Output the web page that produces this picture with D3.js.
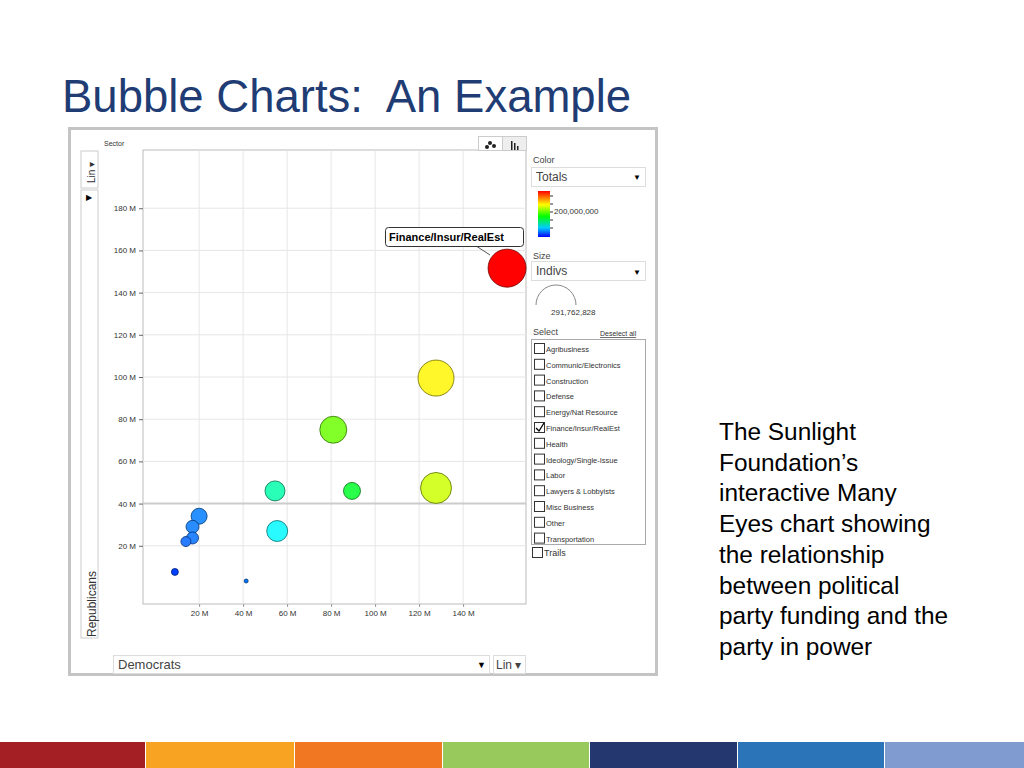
<!DOCTYPE html>
<html><head><meta charset="utf-8">
<script src="https://cdn.jsdelivr.net/npm/d3@7"></script>
<style>body{margin:0;background:#fff;font-family:Arial,"Liberation Sans",sans-serif}</style>
</head><body>
<svg id="s" width="1024" height="768"></svg>
<script>
// ---- data ----
const sectorNames = ["Finance/Insur/RealEst","Misc Business","Health","Lawyers & Lobbyists","Communic/Electronics","Energy/Nat Resource","Construction","Ideology/Single-Issue","Transportation","Agribusiness","Defense","Other","Labor"];
const democrats   = [160, 127.7, 81, 127.7, 89.5, 54.5, 55.5, 20, 17, 17, 14, 9, 41.4];
const republicans = [151.6, 99.5, 75, 47.4, 46, 46, 27, 34, 29, 23.7, 22, 7.6, 3.3];
const indivs      = [361, 324, 182, 240, 72, 100, 110, 64, 42, 36, 25, 12, 4];
const xTicks = [20,40,60,80,100,120,140];
const yTicks = [20,40,60,80,100,120,140,160,180];
const selectList = ["Agribusiness","Communic/Electronics","Construction","Defense","Energy/Nat Resource","Finance/Insur/RealEst","Health","Ideology/Single-Issue","Labor","Lawyers & Lobbyists","Misc Business","Other","Transportation"];
const bodyLines = ["The Sunlight","Foundation\u2019s","interactive Many","Eyes chart showing","the relationship","between political","party funding and the","party in power"];
const barColors = ["#a31f24","#f9a323","#f17723","#97c95c","#24376f","#2b74b8","#7f9bd0"];

const svg = d3.select("#s");
svg.append("text").attr("x",62).attr("y",112).attr("font-size",45.5).attr("fill","#1f3c74").text("Bubble Charts:\u00a0 An Example");
svg.append("rect").attr("x",69.5).attr("y",128.5).attr("width",587).attr("height",546).attr("fill","#fff").attr("stroke","#c4c4c4").attr("stroke-width",3);

const x = d3.scaleLinear().domain([-5.5,168.6]).range([143,526]);
const y = d3.scaleLinear().domain([-7.6,207.6]).range([604,150]);
const g = svg.append("g");
g.append("rect").attr("x",143).attr("y",150).attr("width",383).attr("height",454).attr("fill","#fff").attr("stroke","#bbb");
xTicks.forEach(t=>g.append("line").attr("x1",x(t)).attr("x2",x(t)).attr("y1",150).attr("y2",604).attr("stroke","#e6e6e6"));
yTicks.forEach(t=>g.append("line").attr("x1",143).attr("x2",526).attr("y1",y(t)).attr("y2",y(t)).attr("stroke",t===40?"#ccc":"#e6e6e6").attr("stroke-width",t===40?2:1));
g.append("g").attr("transform","translate(143,0)").call(d3.axisLeft(y).tickValues(yTicks).tickFormat(d=>d+" M").tickSize(4))
 .call(a=>{a.select(".domain").remove();a.selectAll("text").attr("font-size",8).attr("fill","#333");a.selectAll("line").attr("stroke","#666");});
g.append("g").attr("transform","translate(0,604)").call(d3.axisBottom(x).tickValues(xTicks).tickFormat(d=>d+" M").tickSize(3))
 .call(a=>{a.select(".domain").remove();a.selectAll("text").attr("font-size",8).attr("fill","#333");a.selectAll("line").attr("stroke","#999");});

const hue = d3.scaleLinear().domain([20,45,60,82,100,135,156,175,227,312]).range([225,212,210,182,160,130,95,72,58,0]).clamp(true);
const rs = d3.scaleSqrt().domain([0,361]).range([0,19]);
const idx = d3.range(sectorNames.length);
g.selectAll("circle.b").data(idx).join("circle")
 .attr("cx",i=>x(democrats[i])).attr("cy",i=>y(republicans[i])).attr("r",i=>rs(indivs[i]))
 .attr("fill",i=>d3.hsl(hue(democrats[i]+republicans[i]),1,i===0?0.5:(i===11||i===12?0.5:0.58)))
 .attr("stroke",i=>d3.hsl(hue(democrats[i]+republicans[i]),1,0.22)).attr("stroke-width",0.8);
svg.append("line").attr("x1",467).attr("y1",240).attr("x2",490).attr("y2",255).attr("stroke","#555");
svg.append("rect").attr("x",385.5).attr("y",227.5).attr("width",138).attr("height",19).attr("rx",3).attr("fill","#fff").attr("stroke","#333");
svg.append("text").attr("x",389).attr("y",241).attr("font-size",11).attr("font-weight","bold").text(sectorNames[0]);

svg.append("text").attr("x",104).attr("y",146).attr("font-size",7).attr("fill","#333").text("Sector");
svg.append("rect").attr("x",81).attr("y",151).attr("width",17).attr("height",37).attr("fill","#fff").attr("stroke","#ccc");
svg.append("text").attr("transform","translate(95,183) rotate(-90)").attr("font-size",10).attr("fill","#333").text("Lin \u25BE");
svg.append("rect").attr("x",81).attr("y",190).attr("width",17).attr("height",448).attr("fill","#fff").attr("stroke","#ccc");
svg.append("text").attr("x",86).attr("y",200).attr("font-size",8).text("\u25B6");
svg.append("text").attr("transform","translate(96,637) rotate(-90)").attr("font-size",12).attr("fill","#333").text("Republicans");
svg.append("rect").attr("x",478.5).attr("y",136.5).attr("width",24).attr("height",14).attr("fill","#fff").attr("stroke","#ccc");
svg.append("rect").attr("x",502.5).attr("y",136.5).attr("width",24).attr("height",14).attr("fill","#eee").attr("stroke","#ccc");
[[487,147,2],[490,143,2],[494,146,2]].forEach(d=>svg.append("circle").attr("cx",d[0]).attr("cy",d[1]).attr("r",d[2]).attr("fill","#222"));
[[511,141,9],[514,143,7],[517,146,4]].forEach(d=>svg.append("rect").attr("x",d[0]).attr("y",d[1]).attr("width",1.5).attr("height",d[2]).attr("fill","#222"));
svg.append("rect").attr("x",113.5).attr("y",655.5).attr("width",376).attr("height",18).attr("fill","#fff").attr("stroke","#ddd");
svg.append("text").attr("x",118).attr("y",669).attr("font-size",13).attr("fill","#444").text("Democrats");
svg.append("text").attr("x",477).attr("y",668).attr("font-size",9).text("\u25BC");
svg.append("rect").attr("x",493.5).attr("y",655.5).attr("width",32).attr("height",18).attr("fill","#fff").attr("stroke","#ddd");
svg.append("text").attr("x",496).attr("y",669).attr("font-size",12).attr("fill","#444").text("Lin \u25BE");

const px=531;
svg.append("text").attr("x",px+2).attr("y",163).attr("font-size",9).attr("fill","#444").text("Color");
svg.append("rect").attr("x",px+0.5).attr("y",167.5).attr("width",114).attr("height",19).attr("fill","#fff").attr("stroke","#ddd");
svg.append("text").attr("x",px+5).attr("y",181).attr("font-size",12).attr("fill","#444").text("Totals");
svg.append("text").attr("x",px+102).attr("y",180).attr("font-size",8).text("\u25BC");
const gr = svg.append("defs").append("linearGradient").attr("id","rb").attr("x1",0).attr("y1",0).attr("x2",0).attr("y2",1);
[["0%","#ff0000"],["30%","#ffff00"],["55%","#00ff00"],["80%","#00ccff"],["100%","#0000ff"]].forEach(s=>gr.append("stop").attr("offset",s[0]).attr("stop-color",s[1]));
svg.append("rect").attr("x",538).attr("y",191).attr("width",12).attr("height",46).attr("fill","url(#rb)");
[196,204,212,220,228].forEach(v=>svg.append("line").attr("x1",550).attr("x2",553).attr("y1",v).attr("y2",v).attr("stroke","#333"));
svg.append("text").attr("x",554).attr("y",214).attr("font-size",8).attr("fill","#333").text("200,000,000");
svg.append("text").attr("x",px+2).attr("y",259).attr("font-size",9).attr("fill","#444").text("Size");
svg.append("rect").attr("x",px+0.5).attr("y",261.5).attr("width",114).attr("height",19).attr("fill","#fff").attr("stroke","#ddd");
svg.append("text").attr("x",px+5).attr("y",275).attr("font-size",12).attr("fill","#444").text("Indivs");
svg.append("text").attr("x",px+102).attr("y",275).attr("font-size",8).text("\u25BC");
svg.append("path").attr("d","M536,305 A20,20 0 0 1 576,305").attr("fill","none").attr("stroke","#888");
svg.append("text").attr("x",551).attr("y",315).attr("font-size",8).attr("fill","#333").text("291,762,828");
svg.append("text").attr("x",px+2).attr("y",335).attr("font-size",9).attr("fill","#444").text("Select");
svg.append("text").attr("x",600).attr("y",336).attr("font-size",7).attr("fill","#333").attr("text-decoration","underline").text("Deselect all");
svg.append("rect").attr("x",531.5).attr("y",339.5).attr("width",114).attr("height",205).attr("fill","#fff").attr("stroke","#aaa");
selectList.forEach((s,i)=>{
  const yy=343+i*15.8;
  svg.append("rect").attr("x",534.5).attr("y",yy+0.5).attr("width",10).attr("height",10).attr("fill","#fff").attr("stroke","#333");
  if(s===sectorNames[0]) svg.append("path").attr("d",`M536,${yy+6} l3,3 l5,-8`).attr("fill","none").attr("stroke","#000").attr("stroke-width",1.3);
  svg.append("text").attr("x",546).attr("y",yy+9).attr("font-size",7.5).attr("fill","#333").text(s);
});
svg.append("rect").attr("x",532.5).attr("y",547.5).attr("width",10).attr("height",10).attr("fill","#fff").attr("stroke","#333");
svg.append("text").attr("x",544).attr("y",556).attr("font-size",9).attr("fill","#333").text("Trails");

bodyLines.forEach((l,i)=>svg.append("text").attr("x",719).attr("y",440+i*30.7).attr("font-size",24.4).attr("fill","#000").text(l));

const ends=[146,295,443,590,738,885,1024];
barColors.forEach((c,i)=>svg.append("rect").attr("x",i?ends[i-1]:0).attr("y",742).attr("width",ends[i]-(i?ends[i-1]:0)-(i<6?1:0)).attr("height",26).attr("fill",c));
</script></body></html>
